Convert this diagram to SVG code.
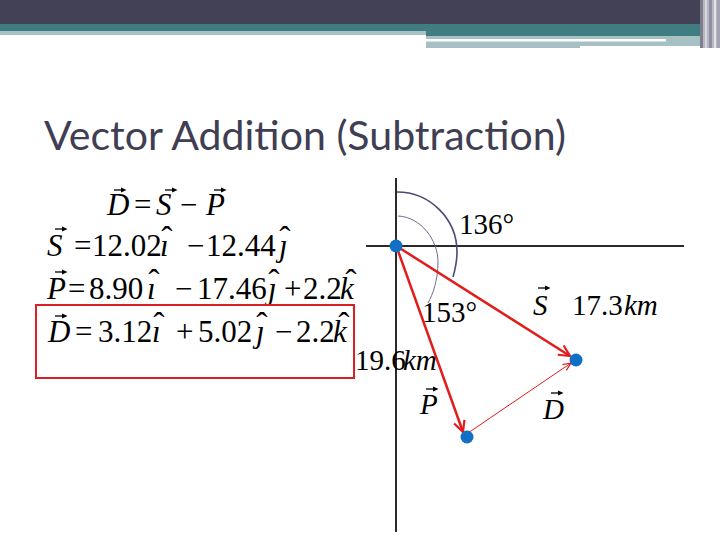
<svg xmlns="http://www.w3.org/2000/svg" xmlns:xlink="http://www.w3.org/1999/xlink" width="720" height="540" viewBox="0 0 720 540">
<style>
.m{font-family:"Liberation Serif","Times New Roman",serif;font-size:31px;fill:#000}
.it{font-style:italic}
.hat{font-family:"Liberation Serif","Times New Roman",serif;font-size:34px;fill:#000;text-anchor:middle}
.lbl{font-family:"Liberation Serif","Times New Roman",serif;font-size:29px;fill:#000}
.title{font-family:"Lato","Open Sans",sans-serif;font-size:40px;fill:#3f3e52}
.axis{stroke:#2a2a2a;stroke-width:2;fill:none}
.vecR{stroke:#e31b1b;fill:none}
.dot{fill:#1170c4}
</style>
<defs>
<g id="va"><line x1="0" y1="0" x2="9" y2="0" stroke="#000" stroke-width="1.3"/><path d="M7,-2.6 L12.5,0 L7,2.6 Z" fill="#000"/></g>
<marker id="ahT" viewBox="0 0 14 14" refX="12.5" refY="7" markerWidth="14" markerHeight="14" orient="auto" markerUnits="userSpaceOnUse"><path d="M1.5,1.5 L12.5,7 L1.5,12.5" fill="none" stroke="#e31b1b" stroke-width="2.2"/></marker>
<marker id="ahN" viewBox="0 0 10 10" refX="9" refY="5" markerWidth="10" markerHeight="10" orient="auto" markerUnits="userSpaceOnUse"><path d="M1,1.5 L9,5 L1,8.5" fill="none" stroke="#e31b1b" stroke-width="1.2"/></marker>
</defs>

<g id="header">
<rect x="0" y="0" width="720" height="24" fill="#424155"/>
<rect x="0" y="24" width="720" height="7" fill="#3f7d82"/>
<rect x="0" y="31" width="426" height="4" fill="#a8c2c5"/>
<rect x="426" y="31" width="274" height="5" fill="#3f7d82"/>
<rect x="426" y="36" width="274" height="10" fill="#a6c0c4"/>
<rect x="426" y="39" width="240" height="2.5" fill="#ffffff"/>
<rect x="426" y="46" width="154" height="2" fill="#a6c0c4"/>
<rect x="700" y="0" width="20" height="48" fill="#b8b8c2"/>
<rect x="700" y="0" width="3" height="48" fill="#7f7d90"/>
<rect x="705" y="0" width="2" height="48" fill="#d4d4dc"/>
<rect x="709" y="0" width="3" height="48" fill="#8f8ea0"/>
<rect x="714" y="0" width="2" height="48" fill="#e2e2e8"/>
<rect x="717" y="0" width="3" height="48" fill="#a2a2b0"/>
</g>

<text id="title" class="title" x="44" y="150" textLength="522" lengthAdjust="spacingAndGlyphs">Vector Addition (Subtraction)</text>

<g id="equations">
<text class="m" y="215"><tspan class="it" x="107">D</tspan><tspan x="134">=</tspan><tspan class="it" x="156">S</tspan><tspan x="180">−</tspan><tspan class="it" x="206">P</tspan></text>
<use xlink:href="#va" x="114" y="190"/><use xlink:href="#va" x="165" y="190"/><use xlink:href="#va" x="214" y="190"/>

<text class="m" y="256"><tspan class="it" x="47">S</tspan><tspan x="74">=</tspan><tspan x="92">12.02</tspan><tspan class="it" x="160">ı</tspan><tspan x="187">−</tspan><tspan x="206">12.44</tspan><tspan class="it" x="279">ȷ</tspan></text>
<use xlink:href="#va" x="55" y="229"/>
<text class="hat" x="167" y="250">ˆ</text><text class="hat" x="285" y="250">ˆ</text>

<text class="m" y="299"><tspan class="it" x="47">P</tspan><tspan x="68">=</tspan><tspan x="89">8.90</tspan><tspan class="it" x="147">ı</tspan><tspan x="175">−</tspan><tspan x="197">17.46</tspan><tspan class="it" x="268">ȷ</tspan><tspan x="284">+</tspan><tspan x="303">2.2</tspan><tspan class="it" x="340">k</tspan></text>
<use xlink:href="#va" x="55" y="272"/>
<text class="hat" x="154" y="293">ˆ</text><text class="hat" x="274" y="293">ˆ</text><text class="hat" x="351" y="293">ˆ</text>

<text class="m" y="342"><tspan class="it" x="48">D</tspan><tspan x="75">=</tspan><tspan x="98">3.12</tspan><tspan class="it" x="152">ı</tspan><tspan x="176">+</tspan><tspan x="198">5.02</tspan><tspan class="it" x="256">ȷ</tspan><tspan x="275">−</tspan><tspan x="296">2.2</tspan><tspan class="it" x="333">k</tspan></text>
<use xlink:href="#va" x="55" y="316"/>
<text class="hat" x="159" y="336">ˆ</text><text class="hat" x="262" y="336">ˆ</text><text class="hat" x="344" y="336">ˆ</text>

<rect id="answer-box" x="36" y="305" width="318" height="73" fill="none" stroke="#dc1f26" stroke-width="2"/>
</g>

<g id="axes">
<line class="axis" x1="396" y1="178" x2="396" y2="532"/>
<line class="axis" x1="366" y1="246" x2="684" y2="246"/>
</g>

<g id="angle-arcs">
<path d="M397,192 C430,192 457,219 457,252 C457,262 455,270 453,277" fill="none" stroke="#4a4a78" stroke-width="1.6"/>
<path d="M398,216 C421,217 438,240 438,262 C438,280 433,294 428,303" fill="none" stroke="#6c6c92" stroke-width="1"/>
</g>

<g id="connectors">
<line id="vec-S" class="vecR" x1="398" y1="247" x2="570" y2="356" stroke-width="2.5" marker-end="url(#ahT)"/>
<line id="vec-P" class="vecR" x1="397" y1="248" x2="463" y2="432" stroke-width="2.5" marker-end="url(#ahT)"/>
<line id="vec-D" class="vecR" x1="468" y1="433" x2="571" y2="363" stroke-width="1" marker-end="url(#ahN)"/>
</g>

<g id="node-origin"><circle class="dot" cx="396" cy="246" r="6.5"/></g>
<g id="node-S-end"><circle class="dot" cx="576" cy="360" r="6.5"/></g>
<g id="node-P-end"><circle class="dot" cx="467" cy="437" r="6.5"/></g>

<g id="labels">
<text class="lbl" x="459" y="234">136°</text>
<text class="lbl" x="422" y="322">153°</text>
<text class="lbl it" x="533" y="315">S</text>
<use xlink:href="#va" x="538" y="288"/>
<text class="lbl" y="315"><tspan x="572">17.3</tspan><tspan class="it" x="624">km</tspan></text>
<text class="lbl" y="370"><tspan x="355">19.6</tspan><tspan class="it" x="403">km</tspan></text>
<text class="lbl it" x="420" y="414">P</text>
<use xlink:href="#va" x="426" y="389"/>
<text class="lbl it" x="543" y="419">D</text>
<use xlink:href="#va" x="551" y="393"/>
</g>
</svg>
